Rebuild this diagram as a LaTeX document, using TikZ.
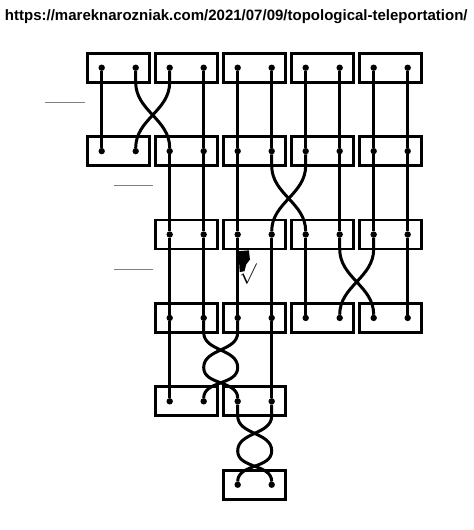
\documentclass[tikz,border=0pt]{standalone}
\usepackage{fontspec}
\newfontfamily\urlfont{Liberation Sans}
\begin{document}
\begin{tikzpicture}[x=34pt,y=-83.4pt,inner sep=0pt,outer sep=0pt,line width=3pt,
pairbox/.style={draw,rectangle,minimum width=62pt,minimum height=29pt,line width=2.8pt},
qdot/.style={circle,fill,minimum size=6.4pt},
guide/.style={draw=gray,line width=0.8pt}]

\useasboundingbox (-1.991,0.188) rectangle (11.95,6.543);

\node[anchor=base west,font=\urlfont\bfseries\fontsize{15}{18}\selectfont] (url) at (-1.844,0.428)
  {https://mareknarozniak.com/2021/07/09/topological-teleportation/};

% boxes and their two dots, row/first pair/last pair
\foreach \r/\a/\b in {1/1/5,2/1/5,3/2/5,4/2/5,5/2/3,6/3/3}{
  \foreach [evaluate=\k as \sl using int(2*\k-1), evaluate=\k as \sr using int(2*\k)] \k in {\a,...,\b}{
    \node[pairbox] (b\r\k) at (2*\k-0.5,\r) {};
    \node[qdot] (d\r-\sl) at (\sl,\r) {};
    \node[qdot] (d\r-\sr) at (\sr,\r) {};
  }
}

% straight strands
\foreach \s in {1,4,5,6,7,8,9,10} \draw (d1-\s) -- (d2-\s);
\foreach \s in {3,4,5,8,9,10} \draw (d2-\s) -- (d3-\s);
\foreach \s in {3,4,5,6,7,10} \draw (d3-\s) -- (d4-\s);
\foreach \s in {3,6} \draw (d4-\s) -- (d5-\s);

% single crossings
\draw (d1-2) -- (d1-2 |- b11.south) to[out=-90,in=90] (d2-3);
\draw (d1-3) -- (d1-3 |- b12.south) to[out=-90,in=90] (d2-2);
\draw (d2-6) -- (d2-6 |- b23.south) to[out=-90,in=90] (d3-7);
\draw (d2-7) -- (d2-7 |- b24.south) to[out=-90,in=90] (d3-6);
\draw (d3-8) -- (d3-8 |- b34.south) to[out=-90,in=90] (d4-9);
\draw (d3-9) -- (d3-9 |- b35.south) to[out=-90,in=90] (d4-8);

% double twists
\draw (d4-4) -- (d4-4 |- b42.south) to[out=-90,in=90] (5,4.595) to[out=-90,in=90] (d5-4);
\draw (d4-5) -- (d4-5 |- b43.south) to[out=-90,in=90] (4,4.595) to[out=-90,in=90] (d5-5);
\draw (d5-5) -- (d5-5 |- b53.south) to[out=-90,in=90] (6,5.595) to[out=-90,in=90] (d6-5);
\draw (d5-6) -- (d5-6 |- b53.south) to[out=-90,in=90] (5,5.595) to[out=-90,in=90] (d6-6);

% grey marks on the left
\coordinate (g1a) at (-0.668,1.41); \coordinate (g1b) at (0.509,1.41);
\coordinate (g2a) at (1.362,2.415); \coordinate (g2b) at (2.509,2.415);
\coordinate (g3a) at (1.362,3.415); \coordinate (g3b) at (2.509,3.415);
\draw[guide] (g1a) -- (g1b);
\draw[guide] (g2a) -- (g2b);
\draw[guide] (g3a) -- (g3b);

% stray mark
\fill (5.02,3.2) -- (5.33,3.19) -- (5.36,3.3) -- (5.25,3.36) -- (5.2,3.44) -- (5.06,3.45) -- cycle;
\node[font=\fontsize{20}{20}\selectfont] (chk) at (5.303,3.47) {$\surd$};
\end{tikzpicture}
\end{document}
